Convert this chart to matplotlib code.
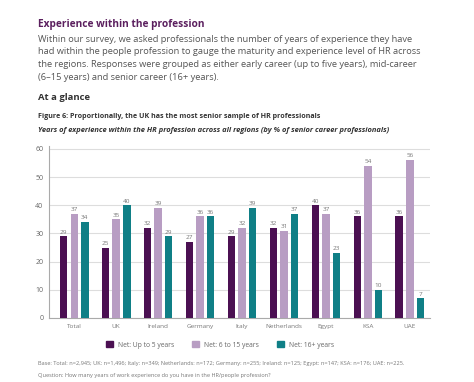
import numpy as np
import matplotlib
matplotlib.use('Agg')
import matplotlib.pyplot as plt
from matplotlib.patches import Patch

plt.rcParams['font.family'] = ['Open Sans', 'DejaVu Sans']

# data
regions = ['Total', 'UK', 'Ireland', 'Germany', 'Italy', 'Netherlands', 'Egypt', 'KSA', 'UAE']
upTo5 = [29, 25, 32, 27, 29, 32, 40, 36, 36]
sixTo15 = [37, 35, 39, 36, 32, 31, 37, 54, 56]
sixteenPlus = [34, 40, 29, 36, 39, 37, 23, 10, 7]
seriesNames = ['Net: Up to 5 years', 'Net: 6 to 15 years', 'Net: 16+ years']
colors = ['#4b1052', '#b89dc3', '#0f7f86']

W, H = 474, 382
fig = plt.figure(figsize=(W / 100, H / 100), dpi=100)

def px(x, y):
    return x / W, 1 - y / H

textGrey = '#555555'
fig.text(*px(38, 25), 'Experience within the profession', fontsize=7.3, fontweight='bold',
         color='#5b1f5e', va='center')
body = ['Within our survey, we asked professionals the number of years of experience they have',
        'had within the people profession to gauge the maturity and experience level of HR across',
        'the regions. Responses were grouped as either early career (up to five years), mid-career',
        '(6\u201315 years) and senior career (16+ years).']
for i, line in enumerate(body):
    fig.text(*px(38, 39 + i * 12.8), line, fontsize=6.7, color=textGrey, va='center')
fig.text(*px(38, 97), 'At a glance', fontsize=6.8, fontweight='bold', color='#333333', va='center')
fig.text(*px(38, 117), 'Figure 6: Proportionally, the UK has the most senior sample of HR professionals',
         fontsize=5.1, fontweight='bold', color='#333333', va='center')
fig.text(*px(38, 130), 'Years of experience within the HR profession across all regions (by % of senior career professionals)',
         fontsize=5.4, fontweight='bold', style='italic', color='#333333', va='center')

# chart
left, right, top, bottom = 49, 430, 146, 318
ax = fig.add_axes([left / W, 1 - bottom / H, (right - left) / W, (bottom - top) / H])
x = np.arange(len(regions))
step = 0.255
width = 0.175
for k, vals in enumerate([upTo5, sixTo15, sixteenPlus]):
    pos = x + (k - 1) * step
    ax.bar(pos, vals, width=width, color=colors[k], zorder=3)
    for p, v in zip(pos, vals):
        ax.text(p, v + 0.6, str(v), ha='center', va='bottom', fontsize=4.6, color='#777777')

ax.set_xlim(-0.6, 8.48)
ax.set_ylim(0, 61)
ax.set_yticks(range(0, 61, 10))
ax.set_xticks(x)
ax.set_xticklabels(regions)
ax.tick_params(axis='y', length=0, labelsize=5, labelcolor='#666666', pad=4)
ax.tick_params(axis='x', length=0, labelsize=4.6, labelcolor='#777777', pad=4)
ax.grid(axis='y', color='#dddddd', linewidth=0.8, zorder=0)
for s in ['top', 'right']:
    ax.spines[s].set_visible(False)
ax.spines['left'].set_color('#aaaaaa')
ax.spines['bottom'].set_color('#aaaaaa')

handles = [Patch(color=c) for c in colors]
fig.legend(handles, seriesNames, loc='center', bbox_to_anchor=px(220, 345), ncol=3, frameon=False,
           fontsize=4.9, labelcolor='#666666', handlelength=1.0, handleheight=1.0,
           columnspacing=2.6, handletextpad=0.8)

fig.text(*px(38, 363), 'Base: Total: n=2,945; UK: n=1,496; Italy: n=349; Netherlands: n=172; Germany: n=255; '
         'Ireland: n=125; Egypt: n=147; KSA: n=176; UAE: n=225.', fontsize=4.1, color='#777777', va='center')
fig.text(*px(38, 375), 'Question: How many years of work experience do you have in the HR/people profession?',
         fontsize=4.1, color='#777777', va='center')

fig.savefig('out.png', dpi=100, facecolor='white')
